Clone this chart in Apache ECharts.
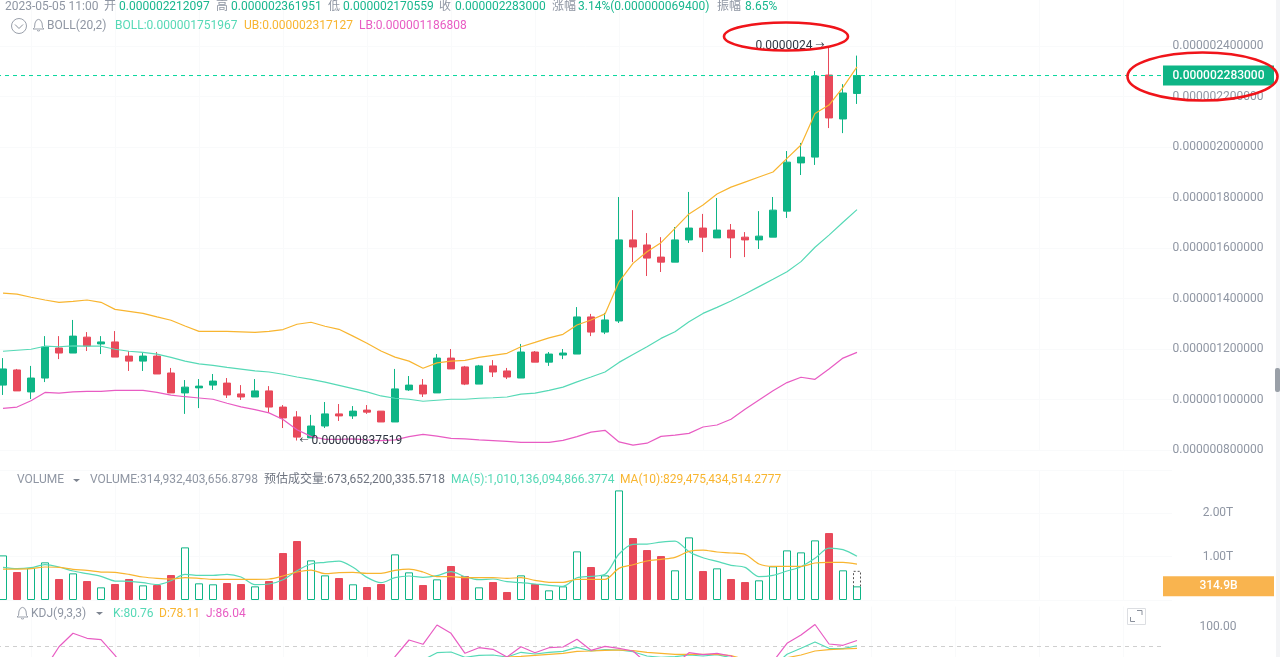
<!DOCTYPE html>
<html>
<head>
<meta charset="utf-8">
<title>K线图</title>
<style>
  html, body { margin: 0; padding: 0; background: #fff; overflow: hidden; }
  #chart { width: 1280px; height: 657px; }
</style>
<script src="https://cdn.jsdelivr.net/npm/echarts@6/dist/echarts.min.js"></script>
</head>
<body>
<div id="chart"></div>
<script>
// Prices are stored in units of 1e-6, volumes in trillions.
const PRICE_UNIT = 1e-6;

const opens = [1.057,1.117,1.030,1.085,1.204,1.184,1.247,1.220,1.228,1.172,1.152,1.172,1.105,1.026,1.046,1.057,1.065,1.022,1.010,1.034,0.970,0.931,0.848,0.895,0.943,0.935,0.958,0.954,0.911,1.038,1.057,1.026,1.164,1.129,1.061,1.133,1.113,1.085,1.188,1.148,1.176,1.180,1.327,1.267,1.311,1.632,1.612,1.564,1.544,1.632,1.679,1.640,1.671,1.643,1.632,1.643,1.746,1.937,1.960,2.285,2.111,2.212097];
const closes = [1.121,1.034,1.085,1.208,1.184,1.251,1.212,1.228,1.168,1.152,1.172,1.101,1.026,1.049,1.053,1.073,1.018,1.010,1.034,0.970,0.927,0.851,0.895,0.943,0.935,0.954,0.950,0.911,1.042,1.057,1.022,1.164,1.121,1.061,1.133,1.109,1.089,1.188,1.148,1.180,1.184,1.327,1.267,1.315,1.632,1.604,1.560,1.544,1.632,1.679,1.643,1.671,1.640,1.632,1.647,1.750,1.940,1.960,2.281,2.115,2.214,2.283];
const highs = [1.164,1.121,1.133,1.251,1.251,1.315,1.267,1.251,1.271,1.192,1.184,1.188,1.125,1.077,1.081,1.101,1.085,1.057,1.081,1.053,0.978,0.954,0.939,0.990,0.982,0.974,0.978,0.954,1.121,1.093,1.081,1.180,1.200,1.133,1.137,1.156,1.125,1.220,1.192,1.188,1.200,1.366,1.339,1.343,1.802,1.750,1.659,1.643,1.683,1.822,1.735,1.798,1.695,1.663,1.746,1.802,1.984,2.016,2.301,2.4,2.249,2.361951];
const lows = [1.018,1.034,1.002,1.069,1.160,1.184,1.192,1.180,1.168,1.113,1.113,1.101,1.026,0.943,0.966,1.038,1.006,0.998,1.010,0.947,0.887,0.837519,0.848,0.887,0.915,0.923,0.943,0.911,0.911,1.034,1.010,1.026,1.121,1.057,1.061,1.089,1.081,1.085,1.148,1.133,1.160,1.180,1.251,1.259,1.303,1.544,1.489,1.505,1.544,1.620,1.584,1.640,1.560,1.564,1.596,1.643,1.719,1.889,1.929,2.075,2.055,2.170559];

const bollMid = [1.191,1.195,1.199,1.211,1.209,1.212,1.211,1.211,1.199,1.191,1.187,1.180,1.167,1.152,1.141,1.135,1.127,1.120,1.113,1.109,1.100,1.089,1.080,1.069,1.056,1.043,1.030,1.014,1.005,1.001,0.993,0.997,1.001,1.001,1.005,1.007,1.010,1.021,1.025,1.036,1.049,1.070,1.089,1.109,1.147,1.178,1.209,1.242,1.268,1.308,1.341,1.365,1.390,1.418,1.447,1.476,1.506,1.546,1.603,1.651,1.702,1.751967];
const bollUpper = [1.421,1.417,1.405,1.394,1.385,1.389,1.394,1.385,1.357,1.349,1.341,1.327,1.314,1.291,1.270,1.270,1.270,1.268,1.266,1.270,1.277,1.298,1.306,1.290,1.278,1.251,1.223,1.192,1.168,1.152,1.124,1.145,1.152,1.155,1.167,1.175,1.183,1.209,1.226,1.244,1.258,1.295,1.315,1.339,1.466,1.539,1.585,1.621,1.678,1.735,1.770,1.814,1.841,1.861,1.881,1.901,1.955,2.008,2.133,2.166,2.236,2.317127];
const bollLower = [0.965,0.970,0.995,1.028,1.025,1.030,1.032,1.032,1.036,1.036,1.036,1.028,1.017,1.011,1.006,1.001,0.985,0.971,0.960,0.947,0.921,0.880,0.854,0.842,0.842,0.844,0.840,0.837,0.840,0.853,0.862,0.855,0.846,0.844,0.840,0.837,0.834,0.830,0.830,0.830,0.838,0.853,0.871,0.878,0.832,0.819,0.827,0.854,0.859,0.866,0.891,0.899,0.922,0.961,0.998,1.035,1.067,1.088,1.080,1.121,1.164,1.186808];

const volumes = [1.03,0.646,0.738,0.869,0.485,0.615,0.438,0.292,0.369,0.485,0.338,0.346,0.577,1.215,0.385,0.362,0.392,0.369,0.315,0.438,1.085,1.362,0.915,0.569,0.508,0.362,0.3,0.369,1.054,0.638,0.346,0.477,0.785,0.554,0.292,0.415,0.185,0.569,0.369,0.223,0.315,1.123,0.762,0.569,2.531,1.431,1.154,1.015,0.685,1.446,0.669,0.731,0.485,0.415,0.454,0.777,1.146,1.1,1.377,1.546,0.685,0.314932];
const estimatedVolume = 0.673652;
const volumeMa5 = [0.754,0.723,0.746,0.815,0.762,0.669,0.608,0.546,0.438,0.431,0.4,0.354,0.446,0.592,0.569,0.569,0.592,0.531,0.354,0.369,0.469,0.677,0.831,0.869,0.9,0.754,0.523,0.4,0.515,0.554,0.523,0.562,0.654,0.538,0.469,0.485,0.423,0.4,0.369,0.338,0.315,0.515,0.546,0.592,1.062,1.285,1.292,1.338,1.362,1.115,0.977,0.892,0.8,0.754,0.538,0.569,0.669,0.769,0.962,1.2,1.162,1.010136];
const volumeMa10 = [0.715,0.715,0.723,0.762,0.754,0.708,0.685,0.646,0.638,0.592,0.531,0.5,0.485,0.515,0.5,0.477,0.477,0.477,0.477,0.485,0.554,0.646,0.692,0.608,0.631,0.638,0.615,0.615,0.685,0.715,0.646,0.538,0.538,0.515,0.515,0.515,0.5,0.515,0.454,0.408,0.408,0.477,0.477,0.477,0.731,0.815,0.9,0.938,0.985,1.123,1.154,1.108,1.085,1.054,0.831,0.777,0.777,0.777,0.854,0.869,0.869,0.829475];

const kdjK = [45,42,40,46,55,64,67,67,62,55,50,44,38,32,35,38,35,32,34,30,24,18,22,30,33,37,36,34,50,62,66.5,73.8,74.5,69.2,71.2,71.5,69.5,74.2,72.5,74.2,75.2,79.2,75.5,76.8,76.5,74.8,70.5,69.2,69.8,71.5,70.5,71.8,68.8,62,55,60,72.2,78.2,84.5,78.2,77.8,80.76];
const kdjD = [42,42,41,43,47,52,57,60,61,59,56,52,47,42,40,39,38,36,35,34,31,27,25,27,29,31,33,34,39,46,52,60,64,65,66,68,69.5,70.2,71.2,72.2,73.2,75.2,75.5,76.2,76.5,75.8,74.2,73.2,72.2,72.2,72.2,72.2,70.8,67.2,62,60,68.8,71.5,75.5,76.8,77.5,78.11];
const kdjJ = [50,45,48,58,79.8,93.2,88.2,86.8,71.2,52,40,35,28,22,30,38,32,26,30,24,12,5,15,28,32,38,36,30,69.8,86.5,82.2,101.5,93.2,73.2,78.8,77.2,69.5,79.8,73.8,78.8,79.5,87.2,76.2,80.2,78.2,75.5,63,60,62,73.8,71.8,73.2,70.5,62,50,64.8,83.2,91.5,102,82.5,81.2,86.04];
const kdjLevel = 80;

const priceTicks = { min: 0.8, max: 2.4, step: 0.2 };
const volumeTicks = { min: 0, max: 3, step: 1 };
const kdjTicks = { min: 0, max: 120, step: 20 };
const HIGH_INDEX = 59, LOW_INDEX = 21;

const GREEN = '#0eb586', RED = '#e8495a', LEVEL_GREEN = '#06d69c';
const MID = '#56d9b6', ORANGE = '#f8b530', PINK = '#e85cc3';
const GREY = '#8f96a3', FAINT = '#f9fafb';
const FONT = 'Roboto, "Noto Sans CJK SC", sans-serif';

// One empty slot before the first candle and 22 after the last one leave the right-hand margin free.
const TRAILING = 22;
const total = opens.length + 1 + TRAILING;
const categories = Array.from({ length: total }, (_, i) => String(i));
const at = i => i + 1;
const pairs = a => a.map((v, i) => [at(i), v]);
const lastSlot = total - 1;
const lastClose = closes[closes.length - 1];
const lastVolume = volumes[volumes.length - 1];

const candles = opens.map((o, i) => [at(i), o, closes[i], lows[i], highs[i]]);

const lineSeries = (name, data, color, xIdx, yIdx, smooth, extra) => Object.assign({
  name, type: 'line', data: pairs(data), xAxisIndex: xIdx, yAxisIndex: yIdx,
  showSymbol: false, smooth: smooth, silent: true,
  lineStyle: { color, width: 1.2 }, itemStyle: { color }, z: 4
}, extra || {});

// Dashed horizontal level across the panel.
const levelSeries = (name, value, color, xIdx, yIdx, extra) => Object.assign({
  name, type: 'line', data: [[0, value], [lastSlot, value]], xAxisIndex: xIdx, yAxisIndex: yIdx,
  showSymbol: false, silent: true,
  lineStyle: { color, width: 1, type: [4, 4], opacity: 1 }, itemStyle: { color }, z: 3
}, extra || {});

// Coloured value tag sitting on the scale at the height of a value.
const scaleTag = (value, str, color) => ({
  silent: true, symbol: 'circle', symbolSize: 1, itemStyle: { color: 'transparent' },
  data: [{
    coord: [lastSlot, value],
    label: {
      show: true, position: 'inside', offset: [53.5, 0], formatter: str,
      color: '#fff', fontFamily: FONT, fontSize: 12, fontWeight: 500,
      backgroundColor: color, width: 111, height: 20, lineHeight: 20, align: 'center', verticalAlign: 'middle'
    }
  }]
});

const pointLabel = (value, index, position, distance, str) => ({
  coord: [at(index), value],
  label: {
    show: true, position, distance, formatter: str, color: '#2f3742', fontSize: 12, fontFamily: FONT,
    rich: { arrow: { fontSize: 9, color: '#2f3742', fontFamily: FONT } }
  }
});

const xAxisFor = (gridIndex, tickLength) => ({
  type: 'category', data: categories, gridIndex,
  boundaryGap: true,
  axisLine: { show: false },
  axisLabel: { show: false },
  splitLine: { show: false },
  axisTick: {
    show: true, alignWithLabel: true, inside: true, length: tickLength,
    interval: idx => idx % 6 === 3,
    lineStyle: { color: FAINT, width: 1 }
  }
});

const yAxisFor = (gridIndex, ticks, formatter, showSplit) => ({
  type: 'value', gridIndex, position: 'right', scale: false,
  min: ticks.min, max: ticks.max, interval: ticks.step,
  axisLine: { show: false }, axisTick: { show: false },
  splitLine: { show: showSplit, lineStyle: { color: FAINT, width: 1 } },
  axisLabel: {
    formatter, color: GREY, fontFamily: FONT, fontSize: 12,
    margin: 46, align: 'center', padding: [2, 0, 0, 0]
  }
});

// Header rows, legend rows and small interface marks.
const text = (x, y, str, fill, fontSize) => ({
  type: 'text', silent: true, z: 20,
  style: { x, y, text: str, fill, font: (fontSize || 12) + 'px ' + FONT, align: 'left', verticalAlign: 'middle' }
});
const labelRow = [
  [5, 7, '2023-05-05 11:00', GREY], [104, 7, '开', GREY], [119, 7, '0.000002212097', '#18b78e'],
  [216, 7, '高', GREY], [231, 7, '0.000002361951', '#18b78e'], [328, 7, '低', GREY], [343, 7, '0.000002170559', '#18b78e'],
  [439, 7, '收', GREY], [455, 7, '0.000002283000', '#18b78e'], [552, 7, '涨幅', GREY],
  [578, 7, '3.14%(0.000000069400)', '#18b78e'], [717, 7, '振幅', GREY], [745, 7, '8.65%', '#18b78e'],
  [47, 26, 'BOLL(20,2)', GREY], [115, 26, 'BOLL:0.000001751967', MID], [244, 26, 'UB:0.000002317127', ORANGE], [359, 26, 'LB:0.000001186808', PINK],
  [17, 480, 'VOLUME', GREY], [90, 480, 'VOLUME:314,932,403,656.8798', GREY], [264, 480, '预估成交量:673,652,200,335.5718', '#6e7480'],
  [451, 480, 'MA(5):1,010,136,094,866.3774', MID], [620, 480, 'MA(10):829,475,434,514.2777', ORANGE],
  [31, 614, 'KDJ(9,3,3)', GREY], [113, 614, 'K:80.76', MID], [159, 614, 'D:78.11', ORANGE], [206, 614, 'J:86.04', PINK]
];
const stroke = (pts, color) => ({ type: 'polyline', silent: true, z: 20, shape: { points: pts }, style: { fill: 'none', stroke: color, lineWidth: 1 } });
const bell = (x, y) => ({
  type: 'group', silent: true, z: 20, x, y,
  children: [
    stroke([[0, 10], [1.5, 8.5], [2, 4], [3.5, 1.2], [5.5, 0.4], [7.5, 1.2], [9, 4], [9.5, 8.5], [11, 10], [0, 10]], '#9aa0ab'),
    stroke([[4, 11.5], [5.5, 12], [7, 11.5]], '#9aa0ab')
  ]
});
const triangle = (pts) => ({ type: 'polygon', silent: true, z: 20, shape: { points: pts }, style: { fill: '#7d8490' } });
const ellipse = (cx, cy, rx, ry) => ({
  type: 'ellipse', silent: true, z: 30, shape: { cx, cy, rx, ry },
  style: { fill: 'none', stroke: '#f0141a', lineWidth: 2.6 }
});
const graphics = [
  { type: 'rect', silent: true, z: 1, shape: { x: 1276, y: 0, width: 4, height: 657 }, style: { fill: '#f3f4f6' } },
  { type: 'rect', silent: true, z: 2, shape: { x: 1275, y: 368, width: 5, height: 24, r: 2 }, style: { fill: '#9aa0a8' } },
  { type: 'circle', silent: true, z: 20, shape: { cx: 19, cy: 26, r: 7.5 }, style: { fill: 'none', stroke: '#9aa0ab', lineWidth: 1 } },
  stroke([[15, 24.5], [19, 28.5], [23, 24.5]], '#8a909b'),
  bell(33, 19), bell(17, 607),
  triangle([[73, 479], [80, 479], [76.5, 482]]),
  triangle([[96, 612], [103, 612], [99.5, 615]]),
  { type: 'rect', silent: true, z: 20, shape: { x: 1127.5, y: 608.5, width: 18, height: 16 }, style: { fill: '#fff', stroke: '#dcdee2', lineWidth: 1 } },
  stroke([[1137, 610.5], [1142, 610.5], [1142, 615]], '#8a909b'),
  stroke([[1130.5, 617], [1130.5, 621.5], [1135, 621.5]], '#8a909b'),
  ellipse(786, 36.5, 62, 14),
  ellipse(1202.5, 76.5, 75, 24)
].concat(labelRow.map(r => text(r[0], r[1], r[2], r[3])));

const gridAt = (top, height) => ({ left: -18, top, width: 14 * total, height, outerBoundsMode: 'none', containLabel: false });

const option = {
  animation: false,
  backgroundColor: '#fff',
  textStyle: { fontFamily: FONT },
  grid: [gridAt(46, 404), gridAt(470.1, 129.9), gridAt(606.5, 120)],
  xAxis: [xAxisFor(0, 450), xAxisFor(1, 130), xAxisFor(2, 120)],
  yAxis: [
    yAxisFor(0, priceTicks, v => (v * PRICE_UNIT).toFixed(12), true),
    yAxisFor(1, volumeTicks, v => (v === volumeTicks.min || v === volumeTicks.max) ? '' : v.toFixed(2) + 'T', true),
    yAxisFor(2, kdjTicks, v => v === 100 ? '100.00' : '', false)
  ],
  series: [
    {
      type: 'candlestick', xAxisIndex: 0, yAxisIndex: 0, silent: true,
      data: candles, encode: { x: 0, y: [1, 2, 3, 4] },
      barWidth: 8,
      itemStyle: { color: GREEN, color0: RED, borderColor: GREEN, borderColor0: RED, borderWidth: 1 }
    },
    levelSeries('last price', lastClose, LEVEL_GREEN, 0, 0, {
      markPoint: scaleTag(lastClose, (lastClose * PRICE_UNIT).toFixed(12), GREEN)
    }),
    lineSeries('BOLL', bollMid, MID, 0, 0, false, {
      // Highest and lowest prices in view, written next to their wicks.
      markPoint: {
        silent: true, symbol: 'circle', symbolSize: 1,
        itemStyle: { color: 'transparent' },
        data: [
          pointLabel(highs[HIGH_INDEX], HIGH_INDEX, 'left', 4, (highs[HIGH_INDEX] * PRICE_UNIT).toFixed(7) + ' {arrow|→}'),
          pointLabel(lows[LOW_INDEX], LOW_INDEX, 'right', 2, '{arrow|←} ' + (lows[LOW_INDEX] * PRICE_UNIT).toFixed(12))
        ]
      }
    }),
    lineSeries('UB', bollUpper, ORANGE, 0, 0, false),
    lineSeries('LB', bollLower, PINK, 0, 0, false),

    // Dashed outline of the projected volume sits behind the bar of the running candle.
    {
      type: 'bar', xAxisIndex: 1, yAxisIndex: 1, silent: true, barWidth: 8, barGap: '-100%',
      data: [[at(volumes.length - 1), estimatedVolume]],
      itemStyle: { color: 'transparent', borderColor: '#555', borderType: [2, 2], borderWidth: 1 },
      z: 2
    },
    {
      type: 'bar', xAxisIndex: 1, yAxisIndex: 1, silent: true, barWidth: 8, barGap: '-100%',
      data: volumes.map((v, i) => {
        const up = closes[i] >= opens[i];
        return {
          value: [at(i), v],
          itemStyle: up
            ? { color: '#fff', borderColor: GREEN, borderWidth: 1 }
            : { color: RED, borderColor: RED, borderWidth: 1 }
        };
      }),
      z: 3
    },
    lineSeries('MA5', volumeMa5, MID, 1, 1, 0.3, {
      markPoint: scaleTag(lastVolume, '314.9B', '#f9b44f')
    }),
    lineSeries('MA10', volumeMa10, ORANGE, 1, 1, 0.3),

    levelSeries('KDJ level', kdjLevel, '#cfcfcf', 2, 2),
    lineSeries('K', kdjK, MID, 2, 2, false),
    lineSeries('D', kdjD, ORANGE, 2, 2, false),
    lineSeries('J', kdjJ, PINK, 2, 2, false)
  ],
  graphic: graphics
};

const chart = echarts.init(document.getElementById('chart'), null, { renderer: 'canvas', width: 1280, height: 657 });
chart.setOption(option);
</script>
</body>
</html>
